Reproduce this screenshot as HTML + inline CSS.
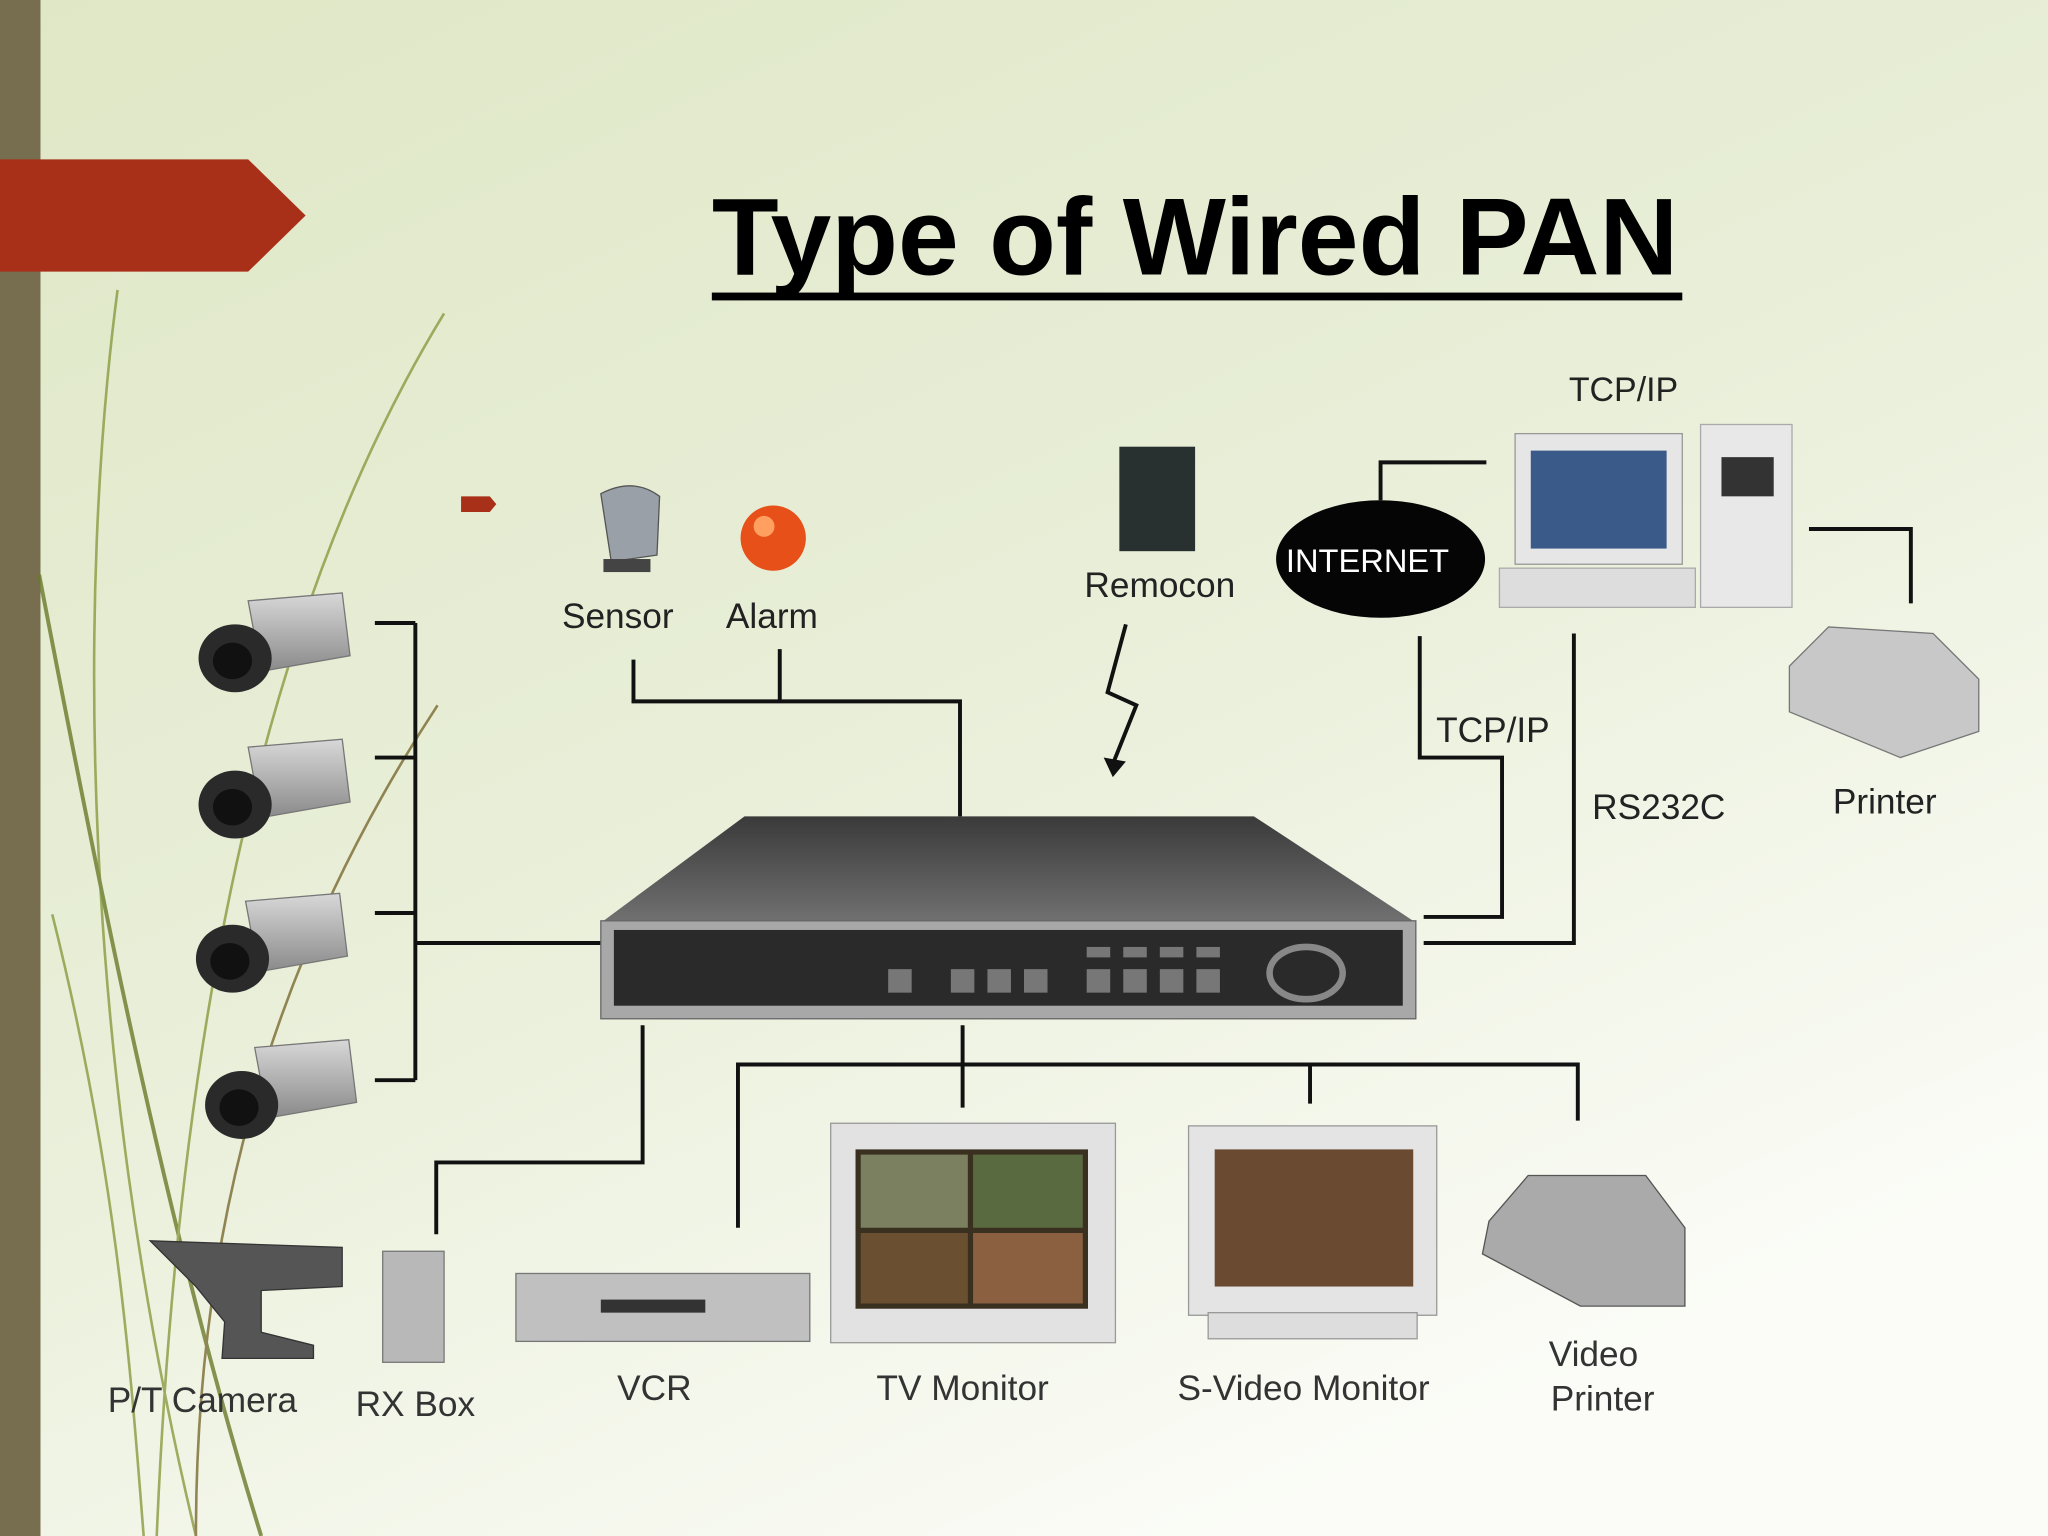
<!DOCTYPE html>
<html><head><meta charset="utf-8"><style>
html,body{margin:0;padding:0;width:2048px;height:1536px;overflow:hidden}
svg{display:block}
text{font-family:"Liberation Sans",sans-serif}
</style></head><body>
<svg width="2048" height="1536" viewBox="0 0 1568 1176" xmlns="http://www.w3.org/2000/svg">
<defs>
<linearGradient id="bg" x1="0" y1="0" x2="0.6" y2="1">
<stop offset="0" stop-color="#dfe7c6"/><stop offset="0.55" stop-color="#e9efd9"/><stop offset="1" stop-color="#fbfcf7"/>
</linearGradient>
<linearGradient id="dvrtop" x1="0" y1="0" x2="0" y2="1"><stop offset="0" stop-color="#3a3a3a"/><stop offset="1" stop-color="#707070"/></linearGradient>
<linearGradient id="cam" x1="0" y1="0" x2="0" y2="1"><stop offset="0" stop-color="#d8d8d8"/><stop offset="1" stop-color="#8a8a8a"/></linearGradient>
<g id="camera">
<path d="M40 8 L112 2 L118 50 L50 62 Z" fill="url(#cam)" stroke="#777"/>
<ellipse cx="30" cy="52" rx="28" ry="26" fill="#2a2a2a"/>
<ellipse cx="28" cy="54" rx="15" ry="14" fill="#111"/>
</g>
</defs>
<rect width="1568" height="1176" fill="url(#bg)"/>
<rect x="0" y="0" width="31" height="1176" fill="#776e50"/>
<path d="M0 122 L190 122 L234 165 L190 208 L0 208 Z" fill="#a83018"/>
<!-- decorative curves -->
<g fill="none" stroke="#8a9a40" stroke-width="2" opacity="0.8">
<path d="M90 222 C60 450 60 800 150 1176"/>
<path d="M30 440 C80 700 130 950 200 1176" stroke="#6a7a2a" stroke-width="3"/>
<path d="M340 240 C230 420 140 700 120 1176"/>
<path d="M335 540 C230 700 150 900 150 1176" stroke="#7a6a30"/>
<path d="M40 700 C90 900 100 1050 110 1176"/>
</g>
<text x="915" y="210" font-size="84" font-weight="bold" text-anchor="middle" fill="#000" textLength="740" lengthAdjust="spacingAndGlyphs">Type of Wired PAN</text>
<rect x="545" y="224" width="743" height="6" fill="#000"/>
<path d="M353 380 L375 380 L380 386 L375 392 L353 392 Z" fill="#a83018"/>
<!-- lines -->
<g fill="none" stroke="#111" stroke-width="3">
<path d="M287 477 H318 M287 580 H318 M287 699 H318 M287 827 H318 M318 477 V827 M318 722 H460"/>
<path d="M485 505 V537 H735 V625 M597 497 V537"/>
<path d="M1057 383 V354 H1138"/>
<path d="M1385 405 H1463 V462"/>
<path d="M1087 487 V580 H1150 V702 H1090"/>
<path d="M1205 485 V722 H1090"/>
<path d="M737 785 V848 M565 940 V815 H1208 V858 M1003 815 V845"/>
<path d="M492 785 V890 H334 V945"/>
<path d="M862 478 L848 530 L870 540 L852 585"/>
</g>
<path d="M845 580 L852 595 L862 583 Z" fill="#111"/>
<!-- cameras -->
<use href="#camera" x="150" y="452"/>
<use href="#camera" x="150" y="564"/>
<use href="#camera" x="148" y="682"/>
<use href="#camera" x="155" y="794"/>
<!-- sensor alarm -->
<path d="M460 378 Q485 365 505 380 L503 425 L468 430 Z" fill="#9aa0a8" stroke="#555"/>
<rect x="462" y="428" width="36" height="10" fill="#444"/>
<circle cx="592" cy="412" r="25" fill="#e8501a"/><circle cx="585" cy="403" r="8" fill="#ffa060"/>
<text x="473" y="481" font-size="27" text-anchor="middle" fill="#222">Sensor</text>
<text x="591" y="481" font-size="27" text-anchor="middle" fill="#222">Alarm</text>
<rect x="857" y="342" width="58" height="80" fill="#283030"/>
<text x="888" y="457" font-size="27" text-anchor="middle" fill="#222">Remocon</text>
<ellipse cx="1057" cy="428" rx="80" ry="45" fill="#050505"/>
<text x="1047" y="438" font-size="25" text-anchor="middle" fill="#fff">INTERNET</text>
<text x="1243" y="307" font-size="26" text-anchor="middle" fill="#222">TCP/IP</text>
<!-- computer -->
<rect x="1160" y="332" width="128" height="100" fill="#e6e6e6" stroke="#999"/>
<rect x="1172" y="345" width="104" height="75" fill="#3a5a8a"/>
<rect x="1148" y="435" width="150" height="30" fill="#ddd" stroke="#aaa"/>
<rect x="1302" y="325" width="70" height="140" fill="#e8e8e8" stroke="#aaa"/>
<rect x="1318" y="350" width="40" height="30" fill="#333"/>
<!-- printer -->
<path d="M1370 510 L1400 480 L1480 485 L1515 520 L1515 560 L1455 580 L1370 545 Z" fill="#c8c8c8" stroke="#777"/>
<text x="1443" y="623" font-size="27" text-anchor="middle" fill="#222">Printer</text>
<text x="1143" y="568" font-size="27" text-anchor="middle" fill="#222">TCP/IP</text>
<text x="1270" y="627" font-size="27" text-anchor="middle" fill="#222">RS232C</text>
<!-- DVR -->
<path d="M570 625 L960 625 L1082 705 L462 705 Z" fill="url(#dvrtop)"/>
<rect x="460" y="705" width="624" height="75" fill="#a8a8a8" stroke="#666"/>
<rect x="470" y="712" width="604" height="58" fill="#2a2a2a"/>
<g fill="#777"><rect x="680" y="742" width="18" height="18"/><rect x="728" y="742" width="18" height="18"/><rect x="756" y="742" width="18" height="18"/><rect x="784" y="742" width="18" height="18"/>
<rect x="832" y="742" width="18" height="18"/><rect x="860" y="742" width="18" height="18"/><rect x="888" y="742" width="18" height="18"/><rect x="916" y="742" width="18" height="18"/>
<rect x="832" y="725" width="18" height="8"/><rect x="860" y="725" width="18" height="8"/><rect x="888" y="725" width="18" height="8"/><rect x="916" y="725" width="18" height="8"/></g>
<ellipse cx="1000" cy="745" rx="28" ry="20" fill="none" stroke="#888" stroke-width="5"/>
<!-- bottom devices -->
<path d="M115 950 L262 955 L262 985 L200 988 L200 1020 L240 1030 L240 1040 L170 1040 L172 1012 L150 985 Z" fill="#555" stroke="#333"/>
<rect x="293" y="958" width="47" height="85" fill="#b8b8b8" stroke="#777"/>
<rect x="395" y="975" width="225" height="52" fill="#c0c0c0" stroke="#777"/>
<rect x="460" y="995" width="80" height="10" fill="#333"/>
<rect x="636" y="860" width="218" height="168" fill="#e2e2e2" stroke="#999"/>
<rect x="655" y="880" width="178" height="122" fill="#3a3020"/>
<rect x="659" y="884" width="82" height="56" fill="#7a8060"/><rect x="745" y="884" width="84" height="56" fill="#5a6a40"/>
<rect x="659" y="944" width="82" height="54" fill="#6a5030"/><rect x="745" y="944" width="84" height="54" fill="#8a6040"/>
<rect x="910" y="862" width="190" height="145" fill="#e4e4e4" stroke="#999"/>
<rect x="930" y="880" width="152" height="105" fill="#6a4a30"/>
<rect x="925" y="1005" width="160" height="20" fill="#ddd" stroke="#999"/>
<path d="M1140 935 L1170 900 L1260 900 L1290 940 L1290 1000 L1210 1000 L1135 960 Z" fill="#aaa" stroke="#555"/>
<text x="155" y="1081" font-size="27" text-anchor="middle" fill="#333">P/T Camera</text>
<text x="318" y="1084" font-size="27" text-anchor="middle" fill="#333">RX Box</text>
<text x="501" y="1072" font-size="27" text-anchor="middle" fill="#333">VCR</text>
<text x="737" y="1072" font-size="27" text-anchor="middle" fill="#333">TV Monitor</text>
<text x="998" y="1072" font-size="27" text-anchor="middle" fill="#333">S-Video Monitor</text>
<text x="1220" y="1046" font-size="27" text-anchor="middle" fill="#333">Video</text>
<text x="1227" y="1080" font-size="27" text-anchor="middle" fill="#333">Printer</text>
</svg>
</body></html>
